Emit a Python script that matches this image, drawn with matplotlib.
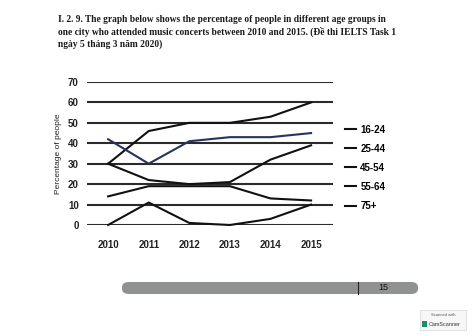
import matplotlib
matplotlib.use("Agg")
import matplotlib.pyplot as plt
from matplotlib.lines import Line2D
from matplotlib.patches import FancyBboxPatch, Rectangle

# -----------------------------
# Data
# -----------------------------
years = [2010, 2011, 2012, 2013, 2014, 2015]
groups = ["16-24", "25-44", "45-54", "55-64", "75+"]
age_16_24 = [30, 46, 50, 50, 53, 60]
age_25_44 = [42, 30, 41, 43, 43, 45]
age_45_54 = [30, 22, 20, 21, 32, 39]
age_55_64 = [14, 19, 19, 19, 13, 12]
age_75_plus = [0, 11, 1, 0, 3, 10]
series = [age_16_24, age_25_44, age_45_54, age_55_64, age_75_plus]
colors = ["#111111", "#27325e", "#111111", "#111111", "#111111"]
yticks = [0, 10, 20, 30, 40, 50, 60, 70]

title_lines = [
    "I. 2. 9. The graph below shows the percentage of people in different age groups in",
    "one city who attended music concerts between 2010 and 2015. (Đề thi IELTS Task 1",
    "ngày 5 tháng 3 năm 2020)",
]

fig = plt.figure(figsize=(4.74, 3.35), dpi=100)
fig.patch.set_facecolor("white")

# title block
for i, line in enumerate(title_lines):
    fig.text(58 / 474, 1 - (20 + i * 12) / 335, line, fontsize=6.85,
             family="Liberation Serif", weight="bold", va="center", ha="left",
             color="#1a1a1a")

# chart area
ax = fig.add_axes([87 / 474, 1 - 225 / 335, (333 - 87) / 474, (225 - 82) / 335])
ax.set_xlim(2009.48, 2015.54)
ax.set_ylim(0, 70)
for v in yticks:
    ax.axhline(v, color="#2b2b2b", linewidth=1.5, zorder=1)

for vals, c in zip(series, colors):
    ax.plot(years, vals, color=c, linewidth=1.5, clip_on=False, zorder=3)

for s in ax.spines.values():
    s.set_visible(False)
ax.set_yticks(yticks)
ax.set_yticklabels([str(v) for v in yticks], family="Liberation Sans",
                   weight="bold", fontsize=7, color="#222222")
ax.set_xticks(years)
ax.set_xticklabels([str(y) for y in years], family="Liberation Sans",
                   weight="bold", fontsize=7, color="#222222")
ax.tick_params(axis="y", length=0, pad=6)
ax.tick_params(axis="x", length=0, pad=11)
ax.set_ylabel("Percentage of people", family="Liberation Sans", fontsize=6,
              labelpad=4, color="#222222")

# legend: short black dashes beside labels
handles = [Line2D([0], [0], color="#111111", linewidth=1.5) for _ in groups]
leg = fig.legend(handles, groups, loc="upper left",
                 bbox_to_anchor=(336 / 474, 1 - 116 / 335), frameon=False,
                 handlelength=1.2, handletextpad=0.4, labelspacing=0.93,
                 prop={"family": "Liberation Sans", "weight": "bold", "size": 7})

# page footer bar with page number
bar = FancyBboxPatch((122 / 474, 1 - 294 / 335), (418 - 122) / 474, 12 / 335,
                     boxstyle="round,pad=0,rounding_size=0.015",
                     transform=fig.transFigure, facecolor="#8f9290",
                     edgecolor="none")
fig.patches.append(bar)
fig.add_artist(Line2D([358 / 474, 358 / 474], [1 - 294 / 335, 1 - 282 / 335],
                      color="#222222", linewidth=0.8, transform=fig.transFigure))
fig.text(383 / 474, 1 - 288 / 335, "15", fontsize=6.5, family="Liberation Sans",
         ha="center", va="center", color="#111111")

# scanner stamp
fig.patches.append(Rectangle((420 / 474, 1 - 330 / 335), 46 / 474, 20 / 335,
                             transform=fig.transFigure, facecolor="#f7f7f7",
                             edgecolor="#dddddd", linewidth=0.6))
fig.text(443 / 474, 1 - 315 / 335, "Scanned with", fontsize=3, ha="center",
         va="center", family="Liberation Sans", color="#555555")
fig.text(445 / 474, 1 - 324 / 335, "CamScanner", fontsize=4, ha="center",
         va="center", family="Liberation Sans", color="#333333")
fig.patches.append(Rectangle((422 / 474, 1 - 327 / 335), 5 / 474, 6 / 335,
                             transform=fig.transFigure, facecolor="#1c8c6c",
                             edgecolor="none"))

fig.savefig("out.png", dpi=100)
